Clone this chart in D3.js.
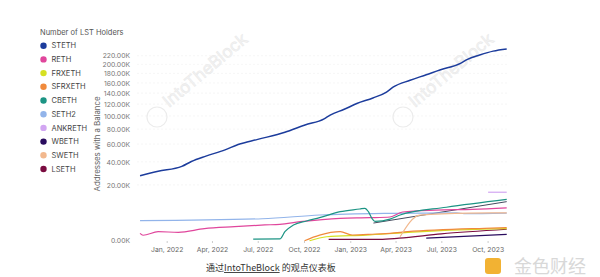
<!DOCTYPE html>
<html>
<head>
<meta charset="utf-8">
<script src="https://cdn.jsdelivr.net/npm/d3@7"></script>
<style>
  body { margin: 0; background: #fff; }
  svg { display: block; font-family: Inter, "Noto Sans", sans-serif; }
</style>
</head>
<body>
<svg id="chart" width="600" height="277"></svg>
<script>
// Series names and colours (legend order)
const seriesNames = ['STETH', 'RETH', 'FRXETH', 'SFRXETH', 'CBETH', 'SETH2', 'ANKRETH', 'WBETH', 'SWETH', 'LSETH'];
const seriesColors = ['#1c3c9c', '#e0469c', '#d6e022', '#f08a3c', '#1c9484', '#92b4ea', '#d2a6f2', '#2a0c5e', '#f2b88e', '#7a0c40'];

const yTicks = [0, 20000, 40000, 60000, 80000, 100000, 120000, 140000, 160000, 180000, 200000, 220000];
const xTicks = ['2022-01-01', '2022-04-01', '2022-07-01', '2022-10-01', '2023-01-01', '2023-04-01', '2023-07-01', '2023-10-01'];

// Holders per token [date, holders]
const steth = [
  ['2021-11-09', 27200], ['2021-12-15', 31000], ['2022-01-31', 35500], ['2022-02-19', 40300],
  ['2022-03-20', 46000], ['2022-04-27', 53000], ['2022-05-23', 59500], ['2022-07-01', 66000],
  ['2022-08-24', 75500], ['2022-10-03', 86100], ['2022-11-10', 95500], ['2022-11-22', 101500],
  ['2022-12-20', 111000], ['2023-01-14', 121000], ['2023-02-15', 131000], ['2023-03-14', 142000],
  ['2023-03-27', 151500], ['2023-04-30', 165500], ['2023-06-01', 177000], ['2023-06-28', 187400],
  ['2023-08-08', 202000], ['2023-08-22', 211500], ['2023-09-15', 221500], ['2023-10-12', 231000],
  ['2023-11-08', 236300]
];
const reth = [
  ['2021-11-09', 350], ['2021-11-15', 190], ['2021-12-15', 520], ['2022-01-24', 450],
  ['2022-03-17', 930], ['2022-05-16', 1260], ['2022-07-15', 1590], ['2022-08-14', 1730],
  ['2022-09-23', 2320], ['2022-12-12', 3230], ['2023-02-09', 3400], ['2023-03-21', 3610],
  ['2023-04-15', 5300], ['2023-06-20', 6000], ['2023-09-01', 6300], ['2023-11-08', 6900]
];
const frxeth = [
  ['2022-10-12', 0], ['2022-11-15', 100], ['2023-02-01', 200], ['2023-04-20', 420],
  ['2023-07-01', 650], ['2023-09-20', 850], ['2023-11-08', 950]
];
const sfrxeth = [
  ['2022-10-02', 0], ['2022-11-01', 200], ['2022-12-12', 520], ['2023-01-05', 210],
  ['2023-02-20', 290], ['2023-03-21', 350], ['2023-04-25', 520], ['2023-09-25', 990],
  ['2023-11-08', 1090]
];
const cbeth = [
  ['2022-06-22', 15], ['2022-08-14', 20], ['2022-08-24', 520], ['2022-09-10', 1590],
  ['2022-10-06', 2500], ['2022-11-01', 3400], ['2022-12-12', 5410], ['2023-01-20', 6460],
  ['2023-01-30', 6750], ['2023-02-06', 5410], ['2023-02-13', 3230], ['2023-02-19', 2400],
  ['2023-03-21', 3000], ['2023-04-10', 4250], ['2023-07-11', 7200], ['2023-11-08', 11000]
];
const seth2 = [
  ['2021-11-09', 2570], ['2022-07-10', 3100], ['2022-11-01', 4250], ['2023-03-21', 4830],
  ['2023-08-01', 5000], ['2023-08-15', 4700], ['2023-11-08', 4900]
];
const ankreth = [
  ['2023-10-02', 15100], ['2023-11-08', 15100]
];
const wbeth = [
  ['2023-06-01', 40], ['2023-11-08', 260]
];
const sweth = [
  ['2023-04-10', 100], ['2023-05-19', 4200], ['2023-08-26', 4900], ['2023-11-08', 5000]
];
const lseth = [
  ['2022-11-19', 10], ['2023-03-01', 10], ['2023-04-08', 40], ['2023-07-01', 300],
  ['2023-11-08', 840]
];
// unlabelled dark line (no legend entry in the picture)
const otherLine = [
  ['2023-02-16', 2000], ['2023-11-08', 9800]
];
const otherColor = '#454a5e';
const seriesData = [steth, reth, frxeth, sfrxeth, cbeth, seth2, ankreth, wbeth, sweth, lseth];

const parse = d3.timeParse('%Y-%m-%d');
const svg = d3.select('#chart');

const x = d3.scaleTime()
  .domain([parse('2022-01-01'), parse('2023-10-01')])
  .range([166.7, 487.6]);
const y = d3.scaleSqrt()
  .domain([0, 220000])
  .range([240.7, 55.7]);

const plotLeft = 137, plotRight = 508;

// faint grid
svg.append('g')
  .selectAll('line')
  .data(yTicks.slice(1))
  .join('line')
  .attr('x1', plotLeft).attr('x2', plotRight)
  .attr('y1', d => y(d)).attr('y2', d => y(d))
  .attr('stroke', '#f0f0f0')
  .attr('stroke-dasharray', '2,2')
  .attr('stroke-width', 0.6);

// watermark
[[157, 117], [403, 117]].forEach(([cx, cy]) => {
  svg.append('circle').attr('cx', cx).attr('cy', cy).attr('r', 10)
    .attr('fill', 'none').attr('stroke', '#ececec').attr('stroke-width', 1.2);
  svg.append('text')
    .attr('transform', `translate(${cx + 12},${cy - 9}) rotate(-40)`)
    .attr('font-size', 17).attr('fill', '#f3f3f3').attr('stroke', '#e9e9e9').attr('stroke-width', 0.5)
    .text('IntoTheBlock');
});

// y axis
const yAxis = svg.append('g')
  .attr('transform', `translate(${plotLeft - 4},0)`)
  .call(d3.axisLeft(y).tickValues(yTicks).tickSize(0).tickFormat(d => (d / 1000).toFixed(2) + 'K'));
yAxis.select('.domain').remove();
yAxis.selectAll('text').attr('font-size', 6.8).attr('fill', '#777').attr('font-family', 'Inter, "Noto Sans", sans-serif');

svg.append('text')
  .attr('transform', 'translate(100,144) rotate(-90)')
  .attr('text-anchor', 'middle')
  .attr('font-size', 7.8).attr('fill', '#666')
  .text('Addresses with a Balance');

// x axis
const xAxis = svg.append('g')
  .attr('transform', 'translate(0,241)')
  .call(d3.axisBottom(x).tickValues(xTicks.map(parse)).tickSize(2).tickSizeOuter(0).tickFormat(d3.timeFormat('%b, %Y')));
xAxis.select('.domain').attr('d', `M${plotLeft},243V241H${plotRight}`).attr('stroke', '#bbb').attr('stroke-width', 0.6);
xAxis.selectAll('.tick line').attr('stroke', '#ccc');
xAxis.selectAll('text').attr('font-size', 6.8).attr('fill', '#666').attr('dy', '0.9em').attr('font-family', 'Inter, "Noto Sans", sans-serif');

// lines
const line = d3.line()
  .x(d => x(parse(d[0])))
  .y(d => y(d[1]))
  .curve(d3.curveMonotoneX);

svg.append('path')
  .attr('fill', 'none')
  .attr('stroke', otherColor)
  .attr('stroke-width', 1)
  .attr('d', line(otherLine));

// draw small series first, steth on top
const order = [5, 1, 9, 7, 2, 3, 8, 4, 6, 0];
svg.append('g')
  .selectAll('path')
  .data(order)
  .join('path')
  .attr('fill', 'none')
  .attr('stroke', i => seriesColors[i])
  .attr('stroke-width', i => i === 0 ? 1.5 : 1.2)
  .attr('d', i => line(seriesData[i]));

// legend
svg.append('text')
  .attr('x', 40).attr('y', 35)
  .attr('font-size', 7.5).attr('fill', '#555')
  .text('Number of LST Holders');
const leg = svg.append('g')
  .selectAll('g')
  .data(seriesNames)
  .join('g')
  .attr('transform', (d, i) => `translate(43.5,${45.7 + i * 13.7})`);
leg.append('circle').attr('r', 3.2).attr('fill', (d, i) => seriesColors[i]);
leg.append('text')
  .attr('x', 8).attr('dy', '0.35em')
  .attr('font-size', 7.5).attr('fill', '#444')
  .text(d => d);

// caption
const cap = svg.append('text')
  .attr('x', 206).attr('y', 271)
  .attr('font-size', 9).attr('fill', '#333')
  .attr('font-family', '"Noto Sans CJK SC", "Noto Sans", sans-serif');
cap.append('tspan').text('通过');
cap.append('tspan').attr('text-decoration', 'underline').text('IntoTheBlock');
cap.append('tspan').text(' 的观点仪表板');

// site watermark
svg.append('rect').attr('x', 485).attr('y', 258).attr('width', 16).attr('height', 16).attr('rx', 3).attr('fill', '#f2b233');
svg.append('text')
  .attr('x', 514).attr('y', 273)
  .attr('font-size', 18).attr('fill', '#d8d8d8')
  .attr('font-family', '"Noto Sans CJK SC", sans-serif')
  .text('金色财经');
</script>
</body>
</html>
